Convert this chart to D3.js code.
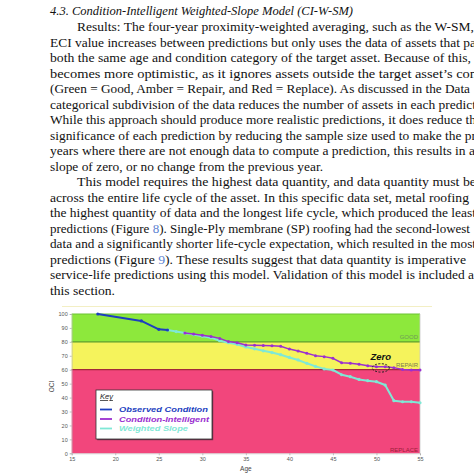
<!DOCTYPE html>
<html>
<head>
<meta charset="utf-8">
<script src="https://cdn.jsdelivr.net/npm/d3@7"></script>
<style>
  html, body { margin: 0; padding: 0; background: #fff; }
</style>
</head>
<body>
<div id="page"></div>
<script>
// page text above the figure
const textLines = [
  "4.3. Condition-Intelligent Weighted-Slope Model (CI-W-SM)",
  "Results: The four-year proximity-weighted averaging, such as the W-SM,",
  "ECI value increases between predictions but only uses the data of assets that pa",
  "both the same age and condition category of the target asset. Because of this,",
  "becomes more optimistic, as it ignores assets outside the target asset\u2019s con",
  "(Green = Good, Amber = Repair, and Red = Replace). As discussed in the Data",
  "categorical subdivision of the data reduces the number of assets in each predict",
  "While this approach should produce more realistic predictions, it does reduce th",
  "significance of each prediction by reducing the sample size used to make the pr",
  "years where there are not enough data to compute a prediction, this results in a",
  "slope of zero, or no change from the previous year.",
  "This model requires the highest data quantity, and data quantity must be",
  "across the entire life cycle of the asset. In this specific data set, metal roofing",
  "the highest quantity of data and the longest life cycle, which produced the least",
  "predictions (Figure |8|). Single-Ply membrane (SP) roofing had the second-lowest",
  "data and a significantly shorter life-cycle expectation, which resulted in the most",
  "predictions (Figure |9|). These results suggest that data quantity is imperative",
  "service-life predictions using this model. Validation of this model is included a",
  "this section."
];

// chart data
const observedAge = [18, 23, 25, 26];
const observedOCI = [100, 95, 89, 88.5];

const ciAge = [28, 29, 30, 31, 32, 33, 34, 35, 36, 37, 38, 39, 40, 41,
               42, 43, 44, 45, 46, 47, 48, 49, 50, 51, 52, 53, 54, 55];
const ciOCI = [86.3, 85.6, 84.8, 83.8, 82.5, 80.2, 79.4, 77.7, 77.5, 77.3, 77.2, 76.8, 74.8, 73.5,
               71.8, 70.1, 69.4, 68.2, 65.0, 64.6, 63.9, 62.9, 62.2, 62.2, 61.5, 60.2, 59.8, 59.8];

const wsAge = [26, 27, 28, 29, 30, 31, 32, 33, 34, 35, 36, 37, 38, 39, 40,
               41, 42, 43, 44, 45, 46, 47, 48, 49, 50, 51, 52, 53, 54, 55];
const wsOCI = [88.5, 87.4, 86.3, 85.2, 84.1, 83.0, 80.8, 79.4, 78.2, 76.3, 75.0, 73.6, 72.3, 70.8, 68.8,
               67.0, 64.6, 62.4, 60.6, 59.8, 56.4, 55.0, 53.0, 52.1, 51.4, 49.0, 37.8, 37.0, 37.0, 36.3];

const bandNames = ["GOOD", "REPAIR", "REPLACE"];
const bandLimits = [[80, 100], [60, 80], [0, 60]];
const xTicks = [15, 20, 25, 30, 35, 40, 45, 50, 55];
const yTicks = [0, 10, 20, 30, 40, 50, 60, 70, 80, 90, 100];
const keyLabels = ["Observed Condition", "Condition-Intelligent", "Weighted Slope"];
const zeroAge = 50.5, zeroOCI = 61.3;

const W = 474, H = 474;
const svg = d3.select('#page').append('svg')
  .attr('width', W).attr('height', H)
  .style('display', 'block');

// ---- text block ----
const lineStart = [50, 77, 50, 50, 50, 50, 50, 50, 50, 50, 50, 77, 50, 50, 50, 50, 50, 50, 50];
const lineEnd = [353, 474, 476, 471, 477, 470, 476, 476, 476, 475, 323, 476, 469, 476, 470, 476, 466, 474, 115];

const txt = svg.append('g')
  .style('font-family', '"Liberation Serif", "DejaVu Serif", serif')
  .style('font-size', '13px')
  .attr('fill', '#111');

textLines.forEach((line, i) => {
  const y = i === 0 ? 15 : 31 + (i - 1) * 15.5;
  const t = txt.append('text')
    .attr('x', lineStart[i]).attr('y', y)
    .attr('textLength', lineEnd[i] - lineStart[i])
    .attr('lengthAdjust', 'spacingAndGlyphs');
  if (i === 0) t.style('font-style', 'italic');
  line.split('|').forEach((part, j) => {
    t.append('tspan').text(part).attr('fill', j === 1 ? '#5b7fd0' : null);
  });
});

// ---- chart ----
const x = d3.scaleLinear().domain([15, 55]).range([71.7, 420]);
const y = d3.scaleLinear().domain([0, 100]).range([453.3, 314]);

const chart = svg.append('g');

// faint figure frame at top
chart.append('line')
  .attr('x1', 62).attr('x2', 432).attr('y1', 306.5).attr('y2', 306.5)
  .attr('stroke', '#f3efc4').attr('stroke-width', 1);

const bandFill = ['#8de83c', '#f5f35c', '#f2467c'];
chart.selectAll('rect.band')
  .data(bandLimits)
  .enter().append('rect')
  .attr('class', 'band')
  .attr('x', x(15)).attr('width', x(55) - x(15))
  .attr('y', d => y(d[1])).attr('height', d => y(d[0]) - y(d[1]))
  .attr('fill', (_, i) => bandFill[i]);

// band boundaries
chart.append('line')
  .attr('x1', x(15)).attr('x2', x(55)).attr('y1', y(100)).attr('y2', y(100))
  .attr('stroke', '#6cc232').attr('stroke-width', 1);
chart.append('line')
  .attr('x1', x(15)).attr('x2', x(55)).attr('y1', y(80)).attr('y2', y(80))
  .attr('stroke', '#5a9e2a').attr('stroke-width', 1.2);
chart.append('line')
  .attr('x1', x(15)).attr('x2', x(55)).attr('y1', y(60)).attr('y2', y(60))
  .attr('stroke', '#a3283a').attr('stroke-width', 1.2);
chart.append('line')
  .attr('x1', x(55)).attr('x2', x(55)).attr('y1', y(100)).attr('y2', y(0))
  .attr('stroke', '#c9c9c9').attr('stroke-width', 0.8);

// axes
const xAxis = chart.append('g')
  .attr('transform', `translate(0,${y(0)})`)
  .call(d3.axisBottom(x).tickValues(xTicks).tickSize(2).tickPadding(2));
const yAxis = chart.append('g')
  .attr('transform', `translate(${x(15)},0)`)
  .call(d3.axisLeft(y).tickValues(yTicks).tickSize(2).tickPadding(2));
[xAxis, yAxis].forEach(a => {
  a.select('.domain').attr('stroke', '#b8b8b8').attr('stroke-width', 0.6);
  a.selectAll('line').attr('stroke', '#999').attr('stroke-width', 0.6);
  a.selectAll('text')
    .style('font-family', 'Arial, "Liberation Sans", sans-serif')
    .style('font-size', '5.5px')
    .attr('fill', '#555');
});

chart.append('text')
  .attr('transform', `translate(54,${y(48)}) rotate(-90)`)
  .attr('text-anchor', 'middle')
  .style('font-family', 'Arial, "Liberation Sans", sans-serif')
  .style('font-size', '6.5px')
  .attr('fill', '#444')
  .text('OCI');
chart.append('text')
  .attr('x', (x(15) + x(55)) / 2).attr('y', 470.5)
  .attr('text-anchor', 'middle')
  .style('font-family', 'Arial, "Liberation Sans", sans-serif')
  .style('font-size', '6.5px')
  .attr('fill', '#444')
  .text('Age');

// band names at right
const bandLabelY = [y(80) - 2.5, y(60) - 2.5, y(0) - 1.5];
const bandLabelFill = ['#6f9a58', '#7a7a52', '#9c1e3a'];
chart.selectAll('text.bandname')
  .data(bandNames)
  .enter().append('text')
  .attr('class', 'bandname')
  .attr('x', x(55) - 2).attr('y', (_, i) => bandLabelY[i])
  .attr('text-anchor', 'end')
  .style('font-family', 'Arial, "Liberation Sans", sans-serif')
  .style('font-size', '6px')
  .attr('fill', (_, i) => bandLabelFill[i])
  .text(d => d);

// series
const series = [
  { age: wsAge, val: wsOCI, color: '#7fe8d6', width: 2, r: 1.6 },
  { age: ciAge, val: ciOCI, color: '#9a2fd0', width: 1.5, r: 1.5 },
  { age: observedAge, val: observedOCI, color: '#1d3fbf', width: 2, r: 1.6 }
];
const line = d3.line().x(d => x(d[0])).y(d => y(d[1]));
series.forEach(s => {
  const pts = s.age.map((a, i) => [a, s.val[i]]);
  chart.append('path')
    .datum(pts)
    .attr('d', line)
    .attr('fill', 'none')
    .attr('stroke', s.color)
    .attr('stroke-width', s.width)
    .attr('stroke-linejoin', 'round');
  chart.selectAll(null)
    .data(pts)
    .enter().append('circle')
    .attr('cx', d => x(d[0])).attr('cy', d => y(d[1]))
    .attr('r', s.r)
    .attr('fill', s.color);
});

// "Zero" annotation
chart.append('ellipse')
  .attr('cx', x(zeroAge)).attr('cy', y(zeroOCI))
  .attr('rx', 8.5).attr('ry', 4.2)
  .attr('fill', 'none')
  .attr('stroke', '#222')
  .attr('stroke-width', 1)
  .attr('stroke-dasharray', '2,1.5');
chart.append('text')
  .attr('x', x(zeroAge)).attr('y', y(zeroOCI) - 8)
  .attr('text-anchor', 'middle')
  .style('font-family', 'Arial, "Liberation Sans", sans-serif')
  .style('font-size', '9.5px')
  .style('font-weight', 'bold')
  .style('font-style', 'italic')
  .attr('fill', '#111')
  .text('Zero');

// key box
const key = chart.append('g').attr('transform', 'translate(96,390)');
key.append('rect')
  .attr('x', 1.2).attr('y', 1.2).attr('width', 116).attr('height', 49)
  .attr('fill', '#6a3048');
key.append('rect')
  .attr('width', 116).attr('height', 49)
  .attr('fill', '#fff')
  .attr('stroke', '#333').attr('stroke-width', 0.8);
key.append('text')
  .attr('x', 4).attr('y', 9)
  .style('font-family', 'Arial, "Liberation Sans", sans-serif')
  .style('font-size', '7.5px')
  .style('font-style', 'italic')
  .style('text-decoration', 'underline')
  .attr('fill', '#222')
  .text('Key');
const keyWidths = [89, 90, 69];
keyLabels.forEach((k, i) => {
  const ky = 19.5 + i * 9.5;
  key.append('line')
    .attr('x1', 4).attr('x2', 16).attr('y1', ky).attr('y2', ky)
    .attr('stroke', series[2 - i].color).attr('stroke-width', 1.8);
  key.append('text')
    .attr('x', 23).attr('y', ky + 2.8)
    .attr('textLength', keyWidths[i])
    .attr('lengthAdjust', 'spacingAndGlyphs')
    .style('font-family', 'Arial, "Liberation Sans", sans-serif')
    .style('font-size', '8px')
    .style('font-weight', 'bold')
    .style('font-style', 'italic')
    .attr('fill', series[2 - i].color)
    .text(k);
});
</script>
</body>
</html>
